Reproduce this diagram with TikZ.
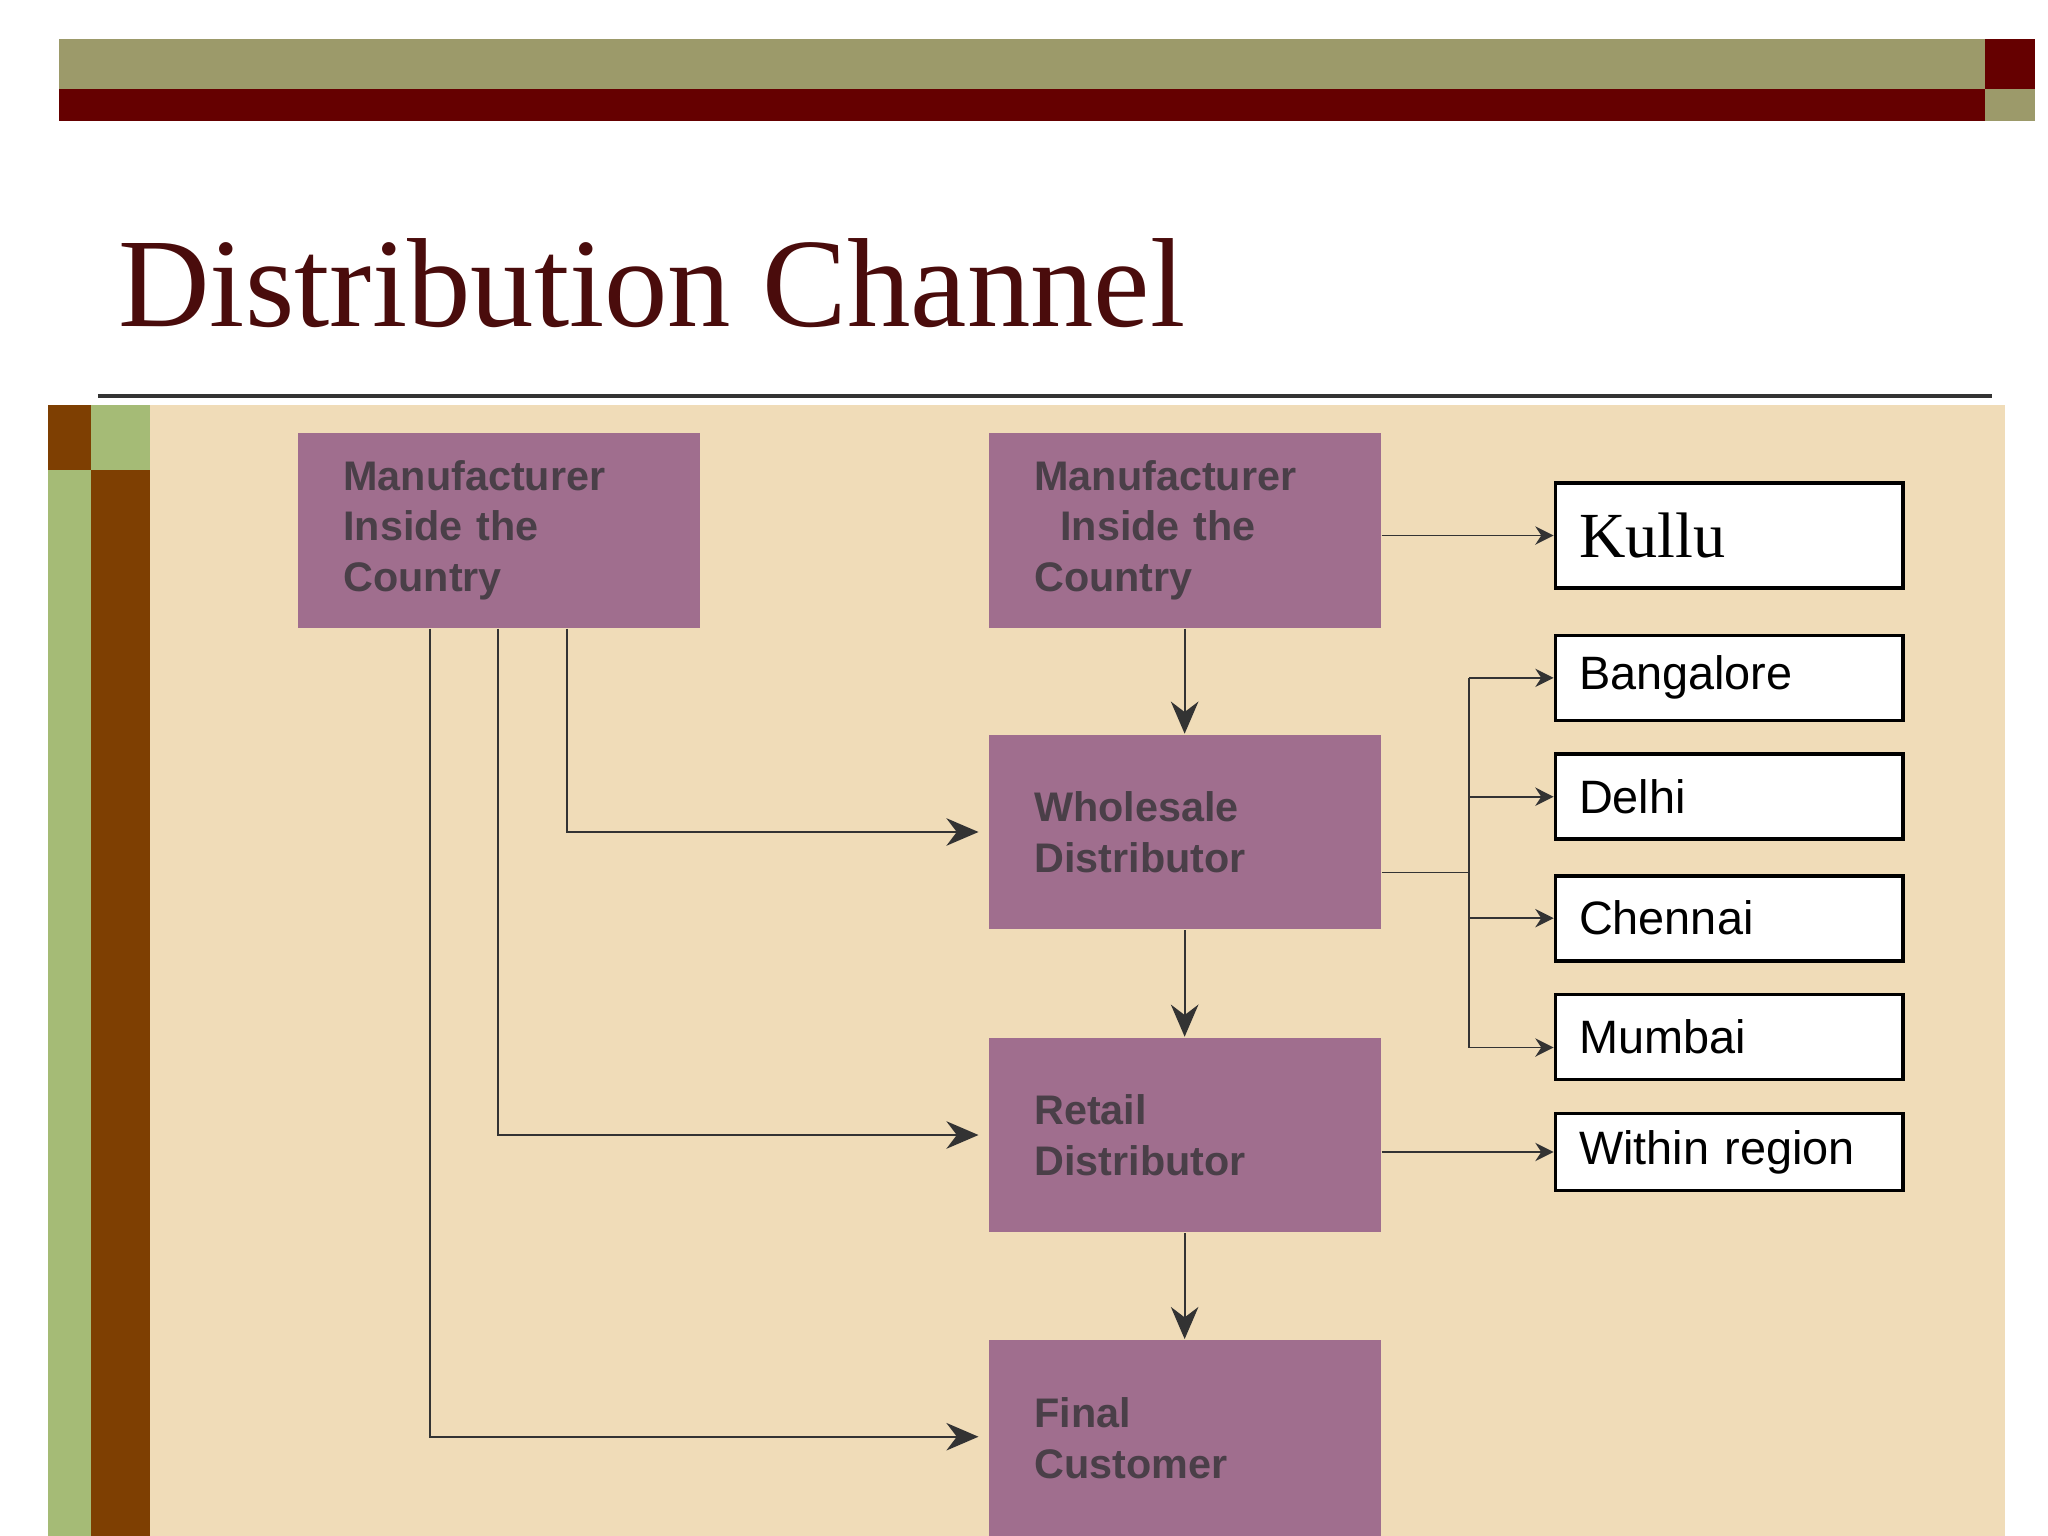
\documentclass[tikz,border=0pt]{standalone}
\usepackage{fontspec}
\setmainfont{Liberation Sans}
\newfontfamily\titlefont{Liberation Serif}
\usetikzlibrary{arrows.meta,positioning,calc}
\definecolor{olivebar}{HTML}{9C9A6A}
\definecolor{darkbar}{HTML}{650000}
\definecolor{titlered}{HTML}{4A0C0C}
\definecolor{beige}{HTML}{F0DCB8}
\definecolor{brownstrip}{HTML}{7E3F02}
\definecolor{greenstrip}{HTML}{A5BB76}
\definecolor{mauve}{HTML}{A06E8E}
\definecolor{boxtext}{HTML}{4A3F48}
\begin{document}
\begin{tikzpicture}[x=0.01cm,y=-0.01cm,
	stage/.style = {rectangle, fill=mauve, minimum width=3.0cm, minimum height=1.49cm,
		text width=2.3cm, align=left, inner sep=0pt, font=\fontsize{9}{11}\selectfont\bfseries, text=boxtext},
	city/.style = {rectangle, draw=black, thick, fill=white, minimum width=2.66cm, minimum height=0.65cm,
		text width=2.3cm, align=left, inner sep=0pt, font=\fontsize{10.2}{12}\selectfont},
	flow/.style = {draw=black!80, -{Stealth[length=7pt,width=6pt]}},
	thin/.style = {draw=black!80, -{Stealth[length=4pt,width=4pt]}}]
\useasboundingbox (0,0) rectangle (1568,1176);
% top bars
\fill[olivebar] (45,30) rectangle (1520,68);
\fill[darkbar] (45,68) rectangle (1520,93);
\fill[darkbar] (1520,30) rectangle (1558,68);
\fill[olivebar] (1520,68) rectangle (1558,93);
\node[anchor=base west, inner sep=0pt, text=titlered, font=\titlefont\fontsize{27.6}{30}\selectfont] (title) at (90,250) {Distribution Channel};
\draw[black!80, thick] (75,303) -- (1525,303);
% background and strips
\fill[beige] (37,310) rectangle (1535,1176);
\fill[brownstrip] (37,310) rectangle (70,360);
\fill[greenstrip] (70,310) rectangle (115,360);
\fill[greenstrip] (37,360) rectangle (70,1176);
\fill[brownstrip] (70,360) rectangle (115,1176);

% stages
\node[stage, minimum width=3.08cm, text width=2.38cm] (mfa) at (382,406) {Manufacturer\\Inside the\\Country};
\node[stage] (mfb) at (907,406) {Manufacturer\\\hspace*{0.2cm}Inside the\\Country};
\node[stage] (whole) at (907,637) {Wholesale\\Distributor};
\node[stage] (retail) at (907,869) {Retail\\Distributor};
\node[stage, minimum height=1.5cm] (final) at (907,1101) {Final\\Customer};

% regions
\node[city, minimum height=0.8cm, font=\titlefont\fontsize{14}{16}\selectfont] (kullu) at (1324,410) {Kullu};
\node[city] (blr) at (1324,519) {Bangalore};
\node[city] (delhi) at (1324,610) {Delhi};
\node[city] (chennai) at (1324,703) {Chennai};
\node[city] (mumbai) at (1324,794) {Mumbai};
\node[city, minimum height=0.59cm] (within) at (1324,882) {Within region};
\coordinate (hub) at (1125,668);

% connectors
\draw[flow] (mfb) -- (whole);
\draw[flow] (whole) -- (retail);
\draw[flow] (retail) -- (final);
\draw[flow] (mfa.south -| 434,0) |- ([xshift=-2pt]whole.west);
\draw[flow] (mfa.south -| 381,0) |- ([xshift=-2pt]retail.west);
\draw[flow] (mfa.south -| 329,0) |- ([xshift=-2pt]final.west |- 0,1100);
\draw[thin] (mfb.east |- kullu) -- (kullu);
\draw[thin] (retail.east |- within) -- (within);
\draw[black!80] (whole.east |- hub) -- (hub);
\draw[black!80] (hub |- blr) -- (hub |- 0,802);
\foreach \c in {blr,delhi,chennai}
	\draw[thin] (hub |- \c) -- (\c);
\draw[thin] (hub |- 0,802) -- (mumbai.west |- 0,802);
\end{tikzpicture}
\end{document}
